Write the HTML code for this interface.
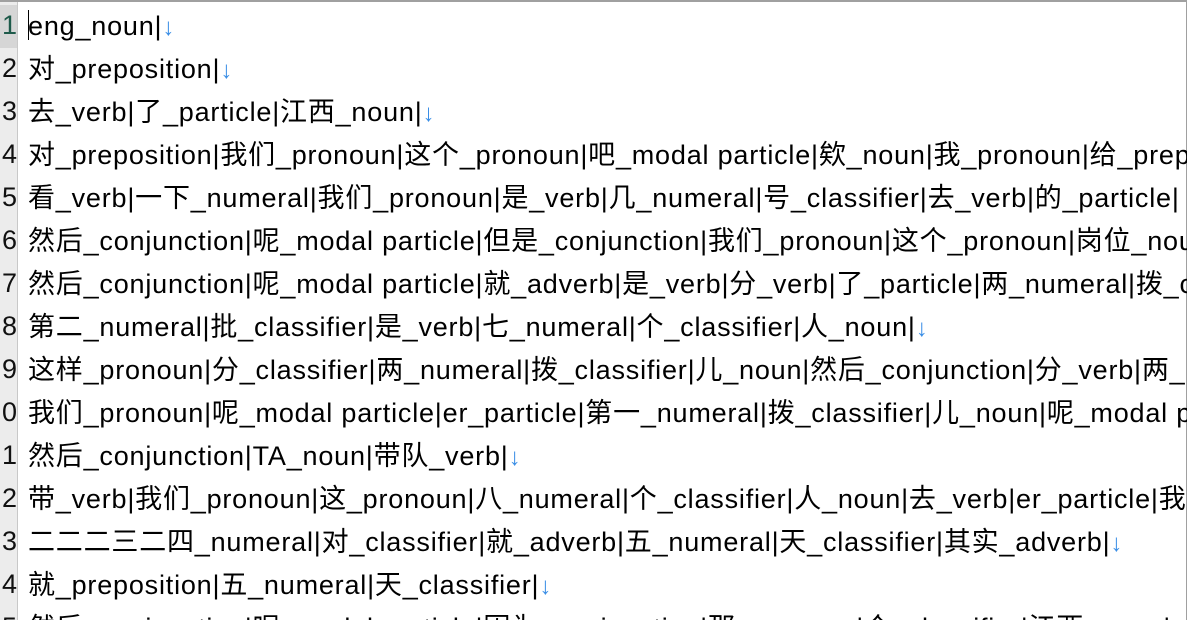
<!DOCTYPE html>
<html><head><meta charset="utf-8"><style>
html,body{margin:0;padding:0;width:1187px;height:620px;overflow:hidden;background:#fff;}
#w{position:absolute;left:0;top:0;width:1187px;height:620px;overflow:hidden;}
.top{position:absolute;left:0;top:0;width:1187px;height:2px;background:#a0a0a0;}
.right{position:absolute;right:0;top:0;width:1px;height:620px;background:#a0a0a0;}
.gut{position:absolute;left:0;top:2px;width:17px;height:618px;background:#ececec;border-right:1px solid #c8c8c8;}
.hl{position:absolute;left:0;top:5px;width:17px;height:43px;background:#d6d6d6;}
.ln{position:absolute;left:0;width:17px;height:34px;line-height:34px;text-align:right;font:27px "Liberation Sans",sans-serif;color:#111;overflow:hidden;white-space:nowrap;direction:rtl;}
.tx{position:absolute;left:28px;height:34px;line-height:34px;white-space:nowrap;font:27px "Liberation Sans","Noto Sans CJK SC",sans-serif;letter-spacing:0.8px;color:#000;}
.a{color:#3a8ee6;font-size:24px;letter-spacing:0;}
.cur{position:absolute;left:28px;top:10px;width:1px;height:30px;background:#000;}
</style></head><body><div id="w">
<div class="top"></div><div class="gut"></div><div class="hl"></div><div class="right"></div>
<div class="ln" style="top:10px;color:#1e5a4a">1</div>
<div class="ln" style="top:53px">2</div>
<div class="ln" style="top:96px">3</div>
<div class="ln" style="top:139px">4</div>
<div class="ln" style="top:182px">5</div>
<div class="ln" style="top:225px">6</div>
<div class="ln" style="top:268px">7</div>
<div class="ln" style="top:311px">8</div>
<div class="ln" style="top:354px">9</div>
<div class="ln" style="top:397px">0</div>
<div class="ln" style="top:440px">1</div>
<div class="ln" style="top:483px">2</div>
<div class="ln" style="top:526px">3</div>
<div class="ln" style="top:569px">4</div>
<div class="ln" style="top:612px">5</div>
<div class="cur"></div>
<div class="tx" style="top:11px">eng_noun|<span class="a">↓</span></div>
<div class="tx" style="top:47px">对_preposition|<span class="a">↓</span></div>
<div class="tx" style="top:90px">去_verb|了_particle|江西_noun|<span class="a">↓</span></div>
<div class="tx" style="top:133px">对_preposition|我们_pronoun|这个_pronoun|吧_modal particle|欸_noun|我_pronoun|给_preposition|</div>
<div class="tx" style="top:176px">看_verb|一下_numeral|我们_pronoun|是_verb|几_numeral|号_classifier|去_verb|的_particle|</div>
<div class="tx" style="top:219px">然后_conjunction|呢_modal particle|但是_conjunction|我们_pronoun|这个_pronoun|岗位_noun|</div>
<div class="tx" style="top:262px">然后_conjunction|呢_modal particle|就_adverb|是_verb|分_verb|了_particle|两_numeral|拨_classifier|</div>
<div class="tx" style="top:305px">第二_numeral|批_classifier|是_verb|七_numeral|个_classifier|人_noun|<span class="a">↓</span></div>
<div class="tx" style="top:348px">这样_pronoun|分_classifier|两_numeral|拨_classifier|儿_noun|然后_conjunction|分_verb|两_numeral|</div>
<div class="tx" style="top:391px">我们_pronoun|呢_modal particle|er_particle|第一_numeral|拨_classifier|儿_noun|呢_modal particle|</div>
<div class="tx" style="top:434px">然后_conjunction|TA_noun|带队_verb|<span class="a">↓</span></div>
<div class="tx" style="top:477px">带_verb|我们_pronoun|这_pronoun|八_numeral|个_classifier|人_noun|去_verb|er_particle|我们_pronoun|</div>
<div class="tx" style="top:520px">二二二三二四_numeral|对_classifier|就_adverb|五_numeral|天_classifier|其实_adverb|<span class="a">↓</span></div>
<div class="tx" style="top:563px">就_preposition|五_numeral|天_classifier|<span class="a">↓</span></div>
<div class="tx" style="top:606px">然后_conjunction|呢_modal particle|因为_conjunction|那_pronoun|个_classifier|江西_noun|</div>
</div></body></html>
